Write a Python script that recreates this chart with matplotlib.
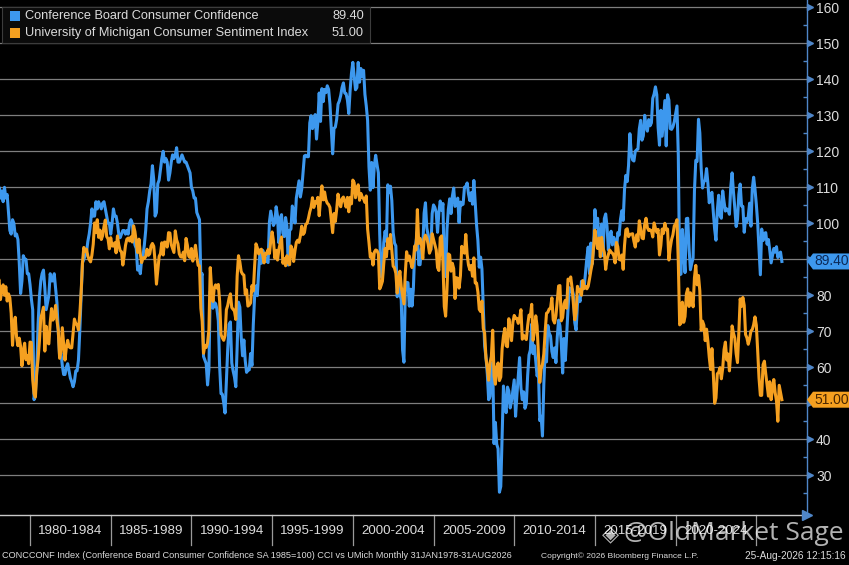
import matplotlib
matplotlib.use("Agg")
import matplotlib.pyplot as plt
import matplotlib.transforms as mtransforms
from matplotlib.patches import Rectangle, Polygon
import numpy as np

# ---------------- data (monthly, Jan 1978 - Aug 2026) ----------------
cb_1978_1989 = [
    108, 110, 107, 109, 106, 110, 107, 108, 103, 98, 97, 101,
    100, 96.5, 97, 95.5, 89, 80.5, 84, 91, 90, 90, 86, 86,
    83, 79, 76, 51, 53, 59, 72, 79.6, 84, 86, 87, 82,
    76, 78, 80, 86, 84, 84, 86, 82, 78, 70, 63, 64,
    60.5, 58, 58, 60, 61, 59, 57, 56, 54.6, 56, 59, 59,
    62, 70, 80, 89, 90, 91, 92, 95, 97, 100, 104, 102,
    102, 106, 104, 106, 105, 104, 105.6, 106, 104, 102, 100, 100,
    97, 100, 104, 102, 102, 100, 97, 96, 97, 98, 98, 97,
    98, 97, 100, 101, 100, 96, 94, 93, 87, 88, 86, 90,
    91, 94, 98, 104, 106, 109, 111, 116, 112, 102, 103, 111,
    112, 115, 118, 120, 117, 118, 117, 112, 114, 117, 119, 118,
    119, 121, 117, 117, 118, 119, 118, 117, 117, 116, 115, 114,
]
cb_1990_1999 = [
    110, 109, 107, 107, 103, 102, 101, 85, 86, 63, 62, 61,
    55.1, 59.4, 81.1, 79.4, 76.4, 78.0, 77.7, 76.1, 72.9, 60.1, 52.7, 52.5,
    50.2, 47.3, 56.5, 65.1, 71.9, 72.6, 61.2, 59.0, 57.3, 54.6, 65.6, 78.1,
    76.7, 68.5, 63.2, 67.6, 61.9, 58.6, 59.2, 59.3, 63.8, 60.5, 71.9, 79.8,
    82.6, 79.9, 86.7, 92.1, 88.9, 92.5, 91.3, 90.4, 89.5, 89.1, 100.4, 103.4,
    101.4, 99.4, 100.2, 104.6, 102.0, 94.6, 101.4, 102.4, 97.3, 96.3, 101.6, 99.2,
    88.4, 98.0, 98.4, 104.8, 103.5, 100.1, 107.0, 109.4, 111.8, 107.3, 109.5, 114.2,
    118.7, 118.9, 118.5, 118.5, 127.9, 129.9, 126.3, 127.6, 130.2, 123.4, 128.1, 136.2,
    128.3, 137.4, 133.8, 137.2, 136.3, 138.2, 137.2, 133.1, 126.4, 119.3, 126.4, 126.7,
    128.9, 133.1, 134.0, 135.5, 137.7, 139.0, 136.2, 136.0, 134.2, 130.5, 137.0, 141.7,
]
cb_2000_2009 = [
    144.7, 140.8, 137.1, 137.7, 144.7, 139.2, 143.0, 140.8, 142.5, 135.8, 132.6, 128.6,
    115.7, 109.2, 116.9, 109.9, 116.1, 118.9, 116.3, 114.0, 97.0, 85.3, 84.9, 94.6,
    97.8, 95.0, 110.7, 108.5, 110.3, 106.3, 97.4, 94.5, 93.7, 79.6, 84.9, 80.3,
    78.8, 64.8, 61.4, 81.0, 83.6, 83.5, 77.0, 81.7, 77.0, 81.7, 92.5, 94.8,
    97.7, 88.5, 88.5, 93.0, 93.1, 102.8, 105.7, 98.7, 96.7, 92.9, 92.6, 102.7,
    105.1, 104.4, 103.0, 97.5, 103.1, 106.2, 103.6, 105.5, 87.5, 85.2, 98.3, 103.8,
    106.8, 102.7, 107.5, 109.8, 104.7, 105.4, 107.0, 100.2, 105.9, 105.1, 105.3, 110.0,
    110.2, 111.2, 108.2, 106.3, 108.5, 105.3, 111.9, 105.6, 99.5, 95.2, 87.8, 90.6,
    87.3, 76.4, 65.9, 62.8, 58.1, 51.0, 51.9, 58.5, 61.4, 38.8, 44.7, 38.6,
    37.4, 25.3, 26.9, 40.8, 54.8, 49.3, 47.4, 54.5, 53.4, 48.7, 50.6, 53.6,
]
cb_2010_2019 = [
    56.5, 46.4, 52.3, 57.7, 62.7, 54.3, 51.0, 53.2, 48.6, 49.9, 57.8, 63.4,
    64.8, 72.0, 63.8, 66.0, 61.7, 57.6, 59.2, 45.2, 46.4, 40.9, 55.2, 64.8,
    61.5, 71.6, 69.5, 68.7, 64.4, 62.7, 65.4, 61.3, 68.4, 73.1, 71.5, 66.7,
    58.4, 68.0, 61.9, 69.0, 76.2, 82.1, 81.0, 81.8, 80.2, 72.4, 70.4, 77.5,
    79.4, 78.3, 83.9, 81.7, 82.2, 86.4, 90.3, 93.4, 86.0, 94.5, 88.7, 93.1,
    103.8, 98.8, 101.4, 95.4, 95.8, 99.8, 91.0, 101.3, 102.6, 99.1, 92.6, 96.3,
    97.8, 94.0, 96.1, 94.7, 92.4, 97.4, 96.7, 101.1, 103.5, 100.8, 109.4, 113.3,
    111.6, 116.1, 124.9, 119.4, 117.6, 117.3, 120.0, 120.4, 120.6, 126.2, 128.6, 123.1,
    124.3, 130.0, 127.0, 125.6, 128.8, 127.1, 127.9, 134.7, 135.9, 137.9, 135.7, 126.6,
    121.7, 131.4, 124.2, 129.2, 134.1, 121.5, 135.7, 134.2, 126.3, 126.1, 126.8, 128.2,
]
cb_2020_2026 = [
    130.4, 132.6, 118.8, 85.7, 85.9, 98.3, 91.7, 86.3, 101.3, 101.4, 92.9, 87.1,
    88.9, 90.4, 109.0, 117.5, 117.2, 128.9, 125.1, 115.2, 109.8, 111.6, 111.9, 115.2,
    111.1, 105.7, 107.6, 108.6, 103.2, 98.4, 95.3, 103.6, 107.8, 102.2, 101.4, 109.0,
    106.0, 103.4, 104.0, 103.7, 102.5, 110.1, 114.0, 108.7, 104.3, 99.1, 101.0, 108.0,
    110.9, 104.8, 104.7, 97.5, 101.3, 100.4, 101.9, 105.6, 99.2, 109.6, 112.8, 109.5,
    105.3, 100.1, 92.9, 85.7, 98.4, 95.2, 97.2, 97.4, 94.2, 95.5, 92.5, 89.0,
    91.0, 93.0, 92.0, 93.5, 90.5, 91.5, 92.0, 89.4,
]

um_1978_1989 = [
    83.7, 84.3, 78.8, 81.6, 82.9, 80.0, 82.4, 78.4, 80.4, 79.3, 75.0, 66.1,
    72.1, 73.9, 68.4, 66.0, 68.1, 65.8, 60.4, 64.5, 66.7, 62.1, 63.3, 61.0,
    67.0, 66.9, 56.5, 52.7, 51.7, 58.7, 62.3, 67.3, 73.7, 75.0, 76.7, 64.5,
    71.4, 66.9, 66.5, 72.4, 76.3, 73.1, 74.1, 77.2, 73.1, 70.3, 62.5, 64.3,
    71.0, 66.5, 62.0, 65.5, 67.5, 65.7, 65.4, 65.4, 69.3, 73.4, 72.1, 71.9,
    70.4, 74.6, 80.8, 89.1, 93.3, 92.2, 92.8, 90.9, 89.9, 89.3, 91.1, 94.2,
    100.1, 97.4, 101.0, 96.1, 98.1, 95.5, 96.6, 99.1, 100.9, 96.3, 95.7, 92.9,
    96.0, 93.7, 93.7, 94.6, 91.8, 96.5, 94.0, 92.4, 92.1, 88.4, 90.9, 93.9,
    95.6, 95.9, 95.1, 96.2, 94.8, 99.3, 97.7, 94.9, 91.9, 95.6, 91.4, 89.1,
    90.4, 90.2, 90.8, 92.8, 91.1, 91.5, 93.7, 94.4, 93.6, 89.3, 83.1, 86.8,
    90.8, 91.6, 94.6, 91.2, 94.8, 94.7, 93.4, 97.4, 97.3, 94.1, 93.0, 91.9,
    97.9, 95.4, 94.3, 91.5, 90.7, 90.6, 92.0, 89.6, 95.8, 93.9, 90.9, 90.5,
]
um_1990_1999 = [
    93.0, 89.5, 91.3, 93.9, 90.6, 88.3, 88.2, 76.4, 72.8, 63.9, 66.0, 65.5,
    66.8, 70.4, 87.7, 81.8, 78.3, 82.1, 82.9, 82.0, 83.0, 78.3, 69.1, 68.2,
    67.5, 68.8, 76.0, 77.2, 79.2, 80.4, 76.6, 76.1, 75.6, 73.3, 85.3, 91.0,
    89.3, 86.6, 85.9, 85.6, 80.3, 81.5, 77.0, 77.3, 77.9, 82.7, 81.2, 88.2,
    94.3, 93.2, 91.5, 92.6, 92.8, 91.2, 89.0, 91.7, 91.5, 92.7, 91.6, 95.1,
    97.6, 95.1, 90.3, 92.5, 89.8, 92.7, 94.4, 96.2, 88.9, 90.2, 88.2, 91.0,
    89.3, 88.5, 93.7, 92.7, 89.4, 92.4, 94.7, 95.3, 94.7, 96.5, 99.2, 96.9,
    97.4, 99.7, 100.0, 101.4, 103.2, 104.5, 107.1, 104.4, 106.0, 105.6, 107.2, 102.1,
    106.6, 110.4, 106.5, 108.7, 106.5, 105.6, 105.2, 104.4, 100.9, 97.4, 102.7, 100.5,
    103.9, 108.1, 105.7, 104.6, 106.8, 107.3, 106.0, 104.5, 107.2, 103.2, 107.2, 105.4,
]
um_2000_2009 = [
    112.0, 111.3, 107.1, 109.2, 110.7, 106.4, 108.3, 107.3, 106.8, 105.8, 107.6, 98.4,
    94.7, 90.6, 91.5, 88.4, 92.0, 92.6, 92.4, 91.5, 81.8, 82.7, 83.9, 88.8,
    93.0, 90.7, 95.7, 93.0, 96.9, 92.4, 88.1, 87.6, 86.1, 80.6, 84.2, 86.7,
    82.4, 79.9, 77.6, 86.0, 92.1, 89.7, 90.9, 89.3, 87.7, 89.6, 93.7, 92.6,
    103.8, 94.4, 95.8, 94.2, 90.2, 95.6, 96.7, 95.9, 94.2, 91.7, 92.8, 97.1,
    95.5, 94.1, 92.6, 87.7, 86.9, 96.0, 96.5, 89.1, 76.9, 74.2, 81.6, 91.5,
    91.2, 86.7, 88.9, 87.4, 79.1, 84.9, 84.7, 82.0, 85.4, 93.6, 92.1, 91.7,
    96.9, 91.3, 88.4, 87.1, 88.3, 85.3, 90.4, 83.4, 83.4, 80.9, 76.1, 75.5,
    78.4, 70.8, 69.5, 62.6, 59.8, 56.4, 61.2, 63.0, 70.3, 57.6, 55.3, 60.1,
    61.2, 56.3, 57.3, 65.1, 68.7, 70.8, 66.0, 65.7, 73.5, 70.6, 67.4, 72.5,
]
um_2010_2019 = [
    74.4, 73.6, 73.6, 72.2, 73.6, 76.0, 67.8, 68.9, 68.2, 67.7, 71.6, 74.5,
    74.2, 77.5, 67.5, 69.8, 74.3, 71.5, 63.7, 55.8, 59.5, 60.8, 63.7, 69.9,
    75.0, 75.3, 76.2, 76.4, 79.3, 73.2, 72.3, 74.3, 78.3, 82.6, 82.7, 72.9,
    73.8, 77.6, 78.6, 76.4, 84.5, 84.1, 85.1, 82.1, 77.5, 73.2, 75.1, 82.5,
    81.2, 81.6, 80.0, 84.1, 81.9, 82.5, 81.8, 82.5, 84.6, 86.9, 88.8, 93.6,
    98.1, 95.4, 93.0, 95.9, 90.7, 96.1, 93.1, 91.9, 87.2, 90.0, 91.3, 92.6,
    92.0, 91.7, 91.0, 89.0, 94.7, 93.5, 90.0, 89.8, 91.2, 87.2, 93.8, 98.2,
    98.5, 96.3, 96.9, 97.0, 97.1, 95.0, 93.4, 96.8, 95.1, 100.7, 98.5, 95.9,
    95.7, 99.7, 101.4, 98.8, 98.0, 98.2, 97.9, 96.2, 100.1, 98.6, 97.5, 98.3,
    91.2, 93.8, 98.4, 97.2, 100.0, 98.2, 98.4, 89.8, 93.2, 95.5, 96.8, 99.3,
]
um_2020_2026 = [
    99.8, 101.0, 89.1, 71.8, 72.3, 78.1, 72.5, 74.1, 80.4, 81.8, 76.9, 80.7,
    79.0, 76.8, 84.9, 88.3, 82.9, 85.5, 81.2, 70.3, 72.8, 71.7, 67.4, 70.6,
    67.2, 62.8, 59.4, 65.2, 58.4, 50.0, 51.5, 58.2, 58.6, 59.9, 56.8, 59.7,
    64.9, 67.0, 62.0, 63.7, 59.0, 64.2, 71.5, 69.5, 68.1, 63.8, 61.3, 69.7,
    79.0, 76.9, 79.4, 77.2, 69.1, 68.2, 66.4, 67.9, 70.1, 70.5, 71.8, 74.0,
    71.7, 64.7, 57.0, 52.2, 52.2, 60.7, 61.7, 58.2, 55.1, 52.0, 56.0, 51.0,
    54.0, 56.6, 53.0, 50.6, 45.0, 55.0, 53.0, 51.0,
]

start_year = 1978
series_names = ["Conference Board Consumer Confidence",
                "University of Michigan Consumer Sentiment Index"]
last_labels = ["89.40", "51.00"]
y_ticks = [30, 40, 50, 60, 70, 80, 90, 100, 110, 120, 130, 140, 150, 160]
y_ticklabels = ["30", "40", "", "60", "70", "80", "", "100", "110", "120",
                "130", "140", "150", "160"]
period_starts = [1980, 1985, 1990, 1995, 2000, 2005, 2010, 2015, 2020]
period_labels = ["1980-1984", "1985-1989", "1990-1994", "1995-1999", "2000-2004",
                 "2005-2009", "2010-2014", "2015-2019", "2020-2024"]
separator_years = [1980, 1985, 1990, 1995, 2000, 2005, 2010, 2015, 2020, 2025]
footer_left = ("CONCCONF Index (Conference Board Consumer Confidence SA 1985=100) "
               "CCI vs UMich Monthly 31JAN1978-31AUG2026")
footer_mid = "Copyright\u00a9 2026 Bloomberg Finance L.P."
footer_right = "25-Aug-2026 12:15:16"
watermark = "@OldMarket Sage"

cb = np.array(cb_1978_1989 + cb_1990_1999 + cb_2000_2009 + cb_2010_2019 + cb_2020_2026)
um = np.array(um_1978_1989 + um_1990_1999 + um_2000_2009 + um_2010_2019 + um_2020_2026)
t = start_year + np.arange(len(cb)) / 12.0

# ---------------- styling ----------------
BLUE = "#3d98ee"
ORANGE = "#f5a020"
GRID = "#7e7e7e"
TXT = "#dcdcdc"
AXBLUE = "#4f86c8"
plt.rcParams["font.family"] = ["Liberation Sans", "DejaVu Sans"]

W, H = 849, 565
fig = plt.figure(figsize=(W / 100, H / 100), dpi=100, facecolor="black")
ax_right_px, ax_bottom_px = 807, 515
ax = fig.add_axes([0, 1 - ax_bottom_px / H, ax_right_px / W, ax_bottom_px / H])
ax.set_facecolor("black")
ax.set_xlim(1978.14, 2028.14)
ax.set_ylim(18.97, 162.03)

for v in y_ticks:
    ax.axhline(v, color=GRID, lw=0.9, zorder=1)

ax.plot(t, cb, color=BLUE, lw=2.2, zorder=3, solid_joinstyle="round")
ax.plot(t, um, color=ORANGE, lw=2.2, zorder=4, solid_joinstyle="round")

# spines
for s in ["top", "left"]:
    ax.spines[s].set_visible(False)
ax.spines["right"].set_color(AXBLUE)
ax.spines["right"].set_linewidth(1.0)
ax.spines["bottom"].set_color("#c8c8c8")
ax.spines["bottom"].set_linewidth(1.0)

ax.yaxis.tick_right()
ax.set_yticks(y_ticks)
ax.set_yticklabels(y_ticklabels)
ax.set_yticks(np.arange(25, 165, 10), minor=True)
ax.tick_params(axis="y", which="major", length=0, pad=6.5, labelsize=10, labelcolor=TXT)
ax.tick_params(axis="y", which="minor", direction="in", length=3, color=AXBLUE, width=1)
ax.set_xticks([])

# right-pointing triangular major ticks
trans_tri = mtransforms.blended_transform_factory(ax.transAxes, ax.transData) + \
    mtransforms.ScaledTranslation(3 / 100, 0, fig.dpi_scale_trans)
ax.plot([1.0] * len(y_ticks), y_ticks, linestyle="none", marker=">", markersize=5,
        color=AXBLUE, transform=trans_tri, clip_on=False, zorder=5)
# arrow at end of x axis
ax.plot([1.0], [0.0], marker=">", markersize=7, color=AXBLUE, transform=ax.transAxes,
        clip_on=False, zorder=5)

# period separators and labels below axis
trans_x = mtransforms.blended_transform_factory(ax.transData, ax.transAxes)
for yr in separator_years:
    ax.plot([yr, yr], [0, -30 / ax_bottom_px], color="#9a9a9a", lw=0.9,
            transform=trans_x, clip_on=False)
for yr, lab in zip(period_starts, period_labels):
    ax.text(yr + 2.5, -16 / ax_bottom_px, lab, transform=trans_x, ha="center",
            va="center", color=TXT, fontsize=9.6)

# helper: figure pixel coords (y from top)
def fx(x):
    return x / W

def fy(y):
    return 1 - y / H

# last value tags
for val, lab, fc, tc in [(cb[-1], last_labels[0], BLUE, "#0c2a58"),
                         (um[-1], last_labels[1], ORANGE, "#4a2600")]:
    yc_disp = ax.transData.transform((2000, val))[1]
    yc = H - yc_disp
    pts = [(807, yc), (813, yc - 8), (849, yc - 8), (849, yc + 8), (813, yc + 8)]
    fig.patches.append(Polygon([(fx(x), fy(y)) for x, y in pts], closed=True,
                               facecolor=fc, edgecolor="none",
                               transform=fig.transFigure, zorder=10))
    fig.text(fx(814), fy(yc), lab, color=tc, fontsize=10, ha="left", va="center",
             zorder=11)

# legend box
fig.patches.append(Rectangle((fx(2), fy(43)), fx(370) - fx(2), fy(7) - fy(43),
                             facecolor="#0b0b0b", edgecolor="#3c3c3c", lw=0.8,
                             transform=fig.transFigure, zorder=10))
for i, (name, lab, col) in enumerate(zip(series_names, last_labels, [BLUE, ORANGE])):
    yc = 16 + i * 17
    fig.patches.append(Rectangle((fx(10), fy(yc + 5)), fx(10) - fx(0), fy(0) - fy(10),
                                 facecolor=col, edgecolor="none",
                                 transform=fig.transFigure, zorder=11))
    fig.text(fx(25), fy(yc), name, color=TXT, fontsize=9.2, ha="left", va="center",
             zorder=12)
    fig.text(fx(364), fy(yc), lab, color=TXT, fontsize=9.2, ha="right", va="center",
             zorder=12)

# footer
fig.text(fx(2), fy(556), footer_left, color=TXT, fontsize=6.6, ha="left", va="center")
fig.text(fx(541), fy(556), footer_mid, color=TXT, fontsize=6.1, ha="left", va="center")
fig.text(fx(846), fy(556), footer_right, color=TXT, fontsize=7.3, ha="right", va="center")

# watermark
fig.text(fx(610), fy(534), "\u25c8", color="white", alpha=0.7, fontsize=16,
         ha="center", va="center", family=["DejaVu Sans"])
fig.text(fx(624), fy(533), watermark, color="white", alpha=0.7, fontsize=19,
         ha="left", va="center", family=["Open Sans", "DejaVu Sans"])

fig.savefig("out.png", dpi=100, facecolor="black")
